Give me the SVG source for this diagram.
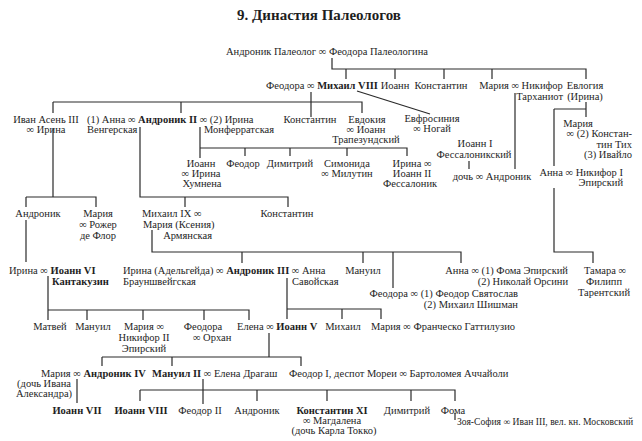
<svg xmlns="http://www.w3.org/2000/svg" width="642" height="441" viewBox="0 0 642 441">
<style>
text{font-family:"Liberation Serif","DejaVu Serif",serif;font-size:10.5px;fill:#1e1e1e}
.ttl{font-size:15px;font-weight:bold;text-anchor:middle}
.b{font-weight:bold}
.c{text-anchor:middle}
.e{text-anchor:end}
.s{font-size:9.6px}
#connectors path{stroke:#2a2a2a;stroke-width:1.2;fill:none}
</style>
<rect width="642" height="441" fill="#ffffff"/>
<text class="ttl" x="319" y="20">9. Династия Палеологов</text>
<g id="connectors">
<path d="M332 58V69H586V79M346 69V79M395 69V79M444 69V79M492 69V79"/>
<path d="M311 92V117M53 102H362V113M53 102V113M181 102V113"/>
<path d="M357 91L430 114"/>
<path d="M515 93V169"/>
<path d="M586 102V117M554 109H586M554 109V166"/>
<path d="M53 128V197M26 197H96V207M26 197V207"/>
<path d="M140 127V197H288V207M185 197V207"/>
<path d="M200 127V158M200 148H407V156M245 148V156M290 148V156M347 148V156"/>
<path d="M469 161V169"/>
<path d="M26 220V262"/>
<path d="M152 230V252H461V263M242 252V263M363 252V263M393 252V288"/>
<path d="M554 188V252H593V263"/>
<path d="M48 276V320M48 310H249V320M87 310V320M143 310V320M204 310V320"/>
<path d="M287 278V319M287 309H381V319M342 309V319"/>
<path d="M269 333V357M102 357H301V366M102 357V366M172 357V366"/>
<path d="M77 379V403"/>
<path d="M203 379V404M140 390H455V401M140 390V401M257 390V401M327 390V401M411 390V401"/>
<path d="M455 413V420"/>
</g>
<g id="n-andronik-paleolog"><text class="c" x="327" y="55">Андроник Палеолог ∞ Феодора Палеологина</text></g>
<g id="n-mikhail8"><text class="c" x="322" y="89">Феодора ∞ <tspan class="b">Михаил VIII</tspan></text></g>
<g id="n-ioann-a"><text class="c" x="395" y="89">Иоанн</text></g>
<g id="n-konstantin-a"><text class="c" x="441" y="89">Константин</text></g>
<g id="n-maria-a"><text class="c" x="521" y="89">Мария ∞ Никифор</text><text class="e" x="563" y="100">Тарханиот</text></g>
<g id="n-evlogia"><text class="c" x="585" y="89">Евлогия</text><text class="c" x="585" y="100">(Ирина)</text></g>
<g id="n-ivan-asen"><text class="c" x="46" y="123">Иван Асень III</text><text class="c" x="46" y="133">∞ Ирина</text></g>
<g id="n-andronik2"><text x="87" y="123">(1) Анна ∞ <tspan class="b">Андроник II</tspan> ∞ (2) Ирина</text><text x="87" y="133">Венгерская</text><text x="204" y="133">Монферратская</text></g>
<g id="n-konstantin-b"><text class="c" x="310" y="123">Константин</text></g>
<g id="n-evdokia"><text class="c" x="367" y="123">Евдокия</text><text class="c" x="366" y="133">∞ Иоанн</text><text class="c" x="366" y="143">Трапезундский</text></g>
<g id="n-evfrosinia"><text class="c" x="432" y="122">Евфросиния</text><text class="c" x="432" y="132">∞ Ногай</text></g>
<g id="n-maria-b"><text class="c" x="578" y="127">Мария</text><text class="e" x="632" y="137">∞ (2) Констан-</text><text class="e" x="632" y="147.5">тин Тих</text><text class="e" x="632" y="158">(3) Ивайло</text></g>
<g id="n-ioann1"><text class="c" x="475" y="147">Иоанн I</text><text class="c" x="474" y="158">Фессалоникский</text></g>
<g id="n-doch"><text class="c" x="492" y="180">дочь ∞ Андроник</text></g>
<g id="n-anna-a"><text class="e" x="623" y="176">Анна ∞ Никифор I</text><text class="e" x="623" y="186">Эпирский</text></g>
<g id="n-ioann-b"><text class="c" x="201" y="167">Иоанн</text><text class="c" x="201" y="177">∞ Ирина</text><text class="c" x="202" y="187">Хумнена</text></g>
<g id="n-feodor-a"><text class="c" x="243" y="167">Феодор</text></g>
<g id="n-dimitriy-a"><text class="c" x="290" y="167">Димитрий</text></g>
<g id="n-simonida"><text class="c" x="347" y="167">Симонида</text><text class="c" x="347" y="177">∞ Милутин</text></g>
<g id="n-irina-a"><text class="c" x="412" y="167">Ирина ∞</text><text class="c" x="412" y="177">Иоанн II</text><text class="c" x="410" y="187">Фессалоник</text></g>
<g id="n-andronik-a"><text class="c" x="38" y="217">Андроник</text></g>
<g id="n-maria-c"><text class="c" x="98" y="217">Мария</text><text class="c" x="98" y="228">∞ Рожер</text><text class="c" x="98" y="239">де Флор</text></g>
<g id="n-mikhail9"><text x="142" y="217">Михаил IX ∞</text><text x="143" y="228">Мария (Ксения)</text><text class="e" x="212" y="239">Армянская</text></g>
<g id="n-konstantin-c"><text class="c" x="287" y="217">Константин</text></g>
<g id="n-ioann6"><text x="9" y="274">Ирина ∞ <tspan class="b">Иоанн VI</tspan></text><text class="b" x="52" y="285">Кантакузин</text></g>
<g id="n-andronik3"><text x="123" y="274">Ирина (Адельгейда) ∞ <tspan class="b">Андроник III</tspan> ∞ Анна</text><text x="123" y="285">Брауншвейгская</text><text x="292" y="285">Савойская</text></g>
<g id="n-manuil-a"><text class="c" x="363" y="274">Мануил</text></g>
<g id="n-anna-b"><text class="e" x="568" y="274">Анна ∞ (1) Фома Эпирский</text><text class="e" x="568" y="285">(2) Николай Орсини</text></g>
<g id="n-tamara"><text class="c" x="605" y="274">Тамара ∞</text><text class="c" x="604" y="285">Филипп</text><text class="c" x="604" y="296">Тарентский</text></g>
<g id="n-feodora-a"><text class="e" x="518" y="297">Феодора ∞ (1) Феодор Святослав</text><text class="e" x="518" y="308">(2) Михаил Шишман</text></g>
<g id="n-matvey"><text class="c" x="50" y="330">Матвей</text></g>
<g id="n-manuil-b"><text class="c" x="93" y="330">Мануил</text></g>
<g id="n-maria-d"><text class="c" x="144" y="330">Мария ∞</text><text class="c" x="144" y="341">Никифор II</text><text class="c" x="144" y="352">Эпирский</text></g>
<g id="n-feodora-b"><text class="c" x="203" y="330">Феодора</text><text x="193" y="341">∞ Орхан</text></g>
<g id="n-ioann5"><text x="237" y="330">Елена ∞ <tspan class="b">Иоанн V</tspan></text></g>
<g id="n-mikhail-a"><text class="c" x="343" y="330">Михаил</text></g>
<g id="n-maria-e"><text x="371" y="330">Мария ∞ Франческо Гаттилузио</text></g>
<g id="n-andronik4"><text x="41" y="377">Мария ∞ <tspan class="b">Андроник IV</tspan></text><text class="c" x="44" y="387">(дочь Ивана</text><text class="c" x="44" y="397">Александра)</text></g>
<g id="n-manuil2"><text x="152" y="377"><tspan class="b">Мануил II</tspan> ∞ Елена Драгаш</text></g>
<g id="n-feodor1"><text x="289" y="377">Феодор I, деспот Мореи ∞ Бартоломея Аччайоли</text></g>
<g id="n-ioann7"><text class="c b" x="77" y="414">Иоанн VII</text></g>
<g id="n-ioann8"><text class="c b" x="141" y="414">Иоанн VIII</text></g>
<g id="n-feodor2"><text class="c" x="200" y="414">Феодор II</text></g>
<g id="n-andronik-b"><text class="c" x="257" y="414">Андроник</text></g>
<g id="n-konstantin11"><text class="c b" x="332" y="414">Константин XI</text><text class="c" x="332" y="424">∞ Магдалена</text><text class="c" x="334" y="434">(дочь Карла Токко)</text></g>
<g id="n-dimitriy-b"><text class="c" x="407" y="414">Димитрий</text></g>
<g id="n-foma"><text class="c" x="453" y="414">Фома</text></g>
<g id="n-zoya"><text class="s" x="457" y="425">Зоя-София ∞ Иван III, вел. кн. Московский</text></g>
</svg>
